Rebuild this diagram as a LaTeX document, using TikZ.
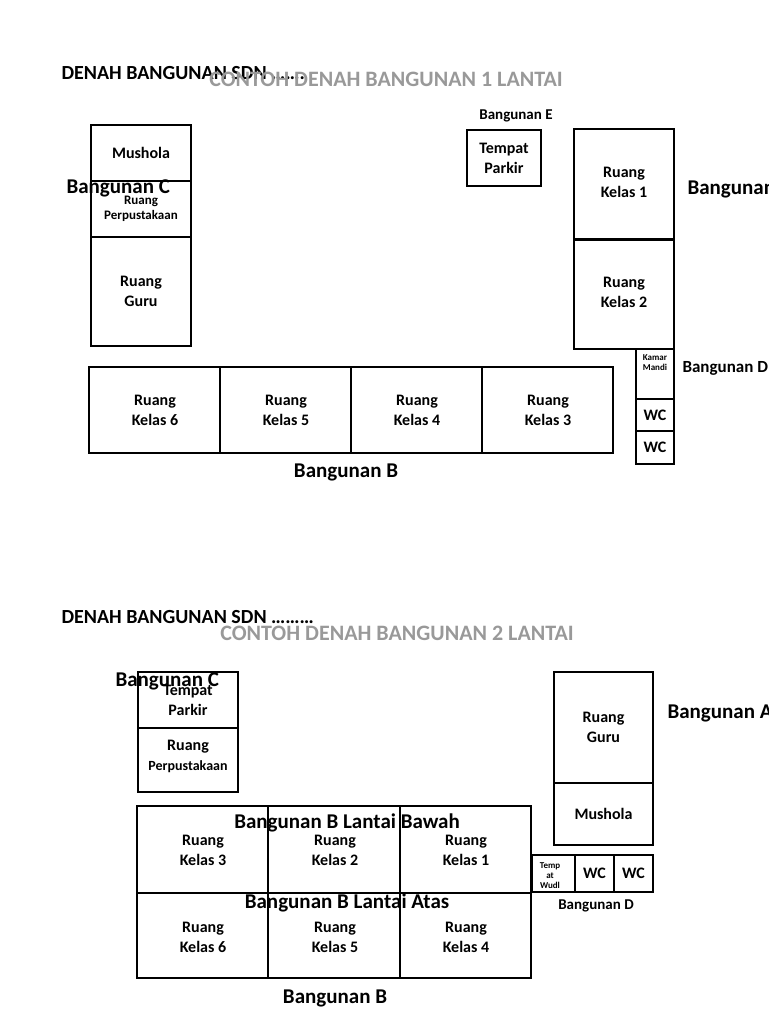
\documentclass[tikz,border=0pt]{standalone}
\usepackage{fontspec}
\setmainfont{Carlito}
\begin{document}
\begin{tikzpicture}[x=1pt,y=-1pt,
 room/.style={draw,line width=1.2pt},
 rt/.style={align=center,font=\bfseries\fontsize{16}{20}\selectfont},
 lbl/.style={font=\bfseries\fontsize{21}{22}\selectfont},
 ttl/.style={font=\bfseries\fontsize{20}{22}\selectfont,anchor=west},
 gry/.style={font=\bfseries\fontsize{22}{22}\selectfont,text=gray!80}]
\useasboundingbox (0,0) rectangle (768,1024);
% top plan
\node[ttl] (t1) at (58,73) {DENAH BANGUNAN SDN \dots\dots.};
\node[gry] (g1) at (386,79) {CONTOH DENAH BANGUNAN 1 LANTAI};
\draw[room] (91,125) rectangle (191,181) node[rt,midway] (mu) {Mushola};
\draw[room] (91,181) rectangle (191,237) node[rt,midway,font=\bfseries\fontsize{13}{15}\selectfont] (pp) {Ruang\\Perpustakaan};
\draw[room] (91,237) rectangle (191,346) node[rt,midway] (gu) {Ruang\\Guru};
\node[lbl,anchor=west] (bc) at (63,188) {Bangunan C};
\node[font=\bfseries\fontsize{15}{16}\selectfont] (be) at (516,116) {Bangunan E};
\draw[room] (467,130) rectangle (541,186) node[rt,midway] (tp) {Tempat\\Parkir};
\draw[room] (574,129) rectangle (674,239) node[rt,midway,yshift=2pt] (k1) {Ruang\\Kelas 1};
\draw[room] (574,240) rectangle (674,349) node[rt,midway,yshift=2pt] (k2) {Ruang\\Kelas 2};
\node[lbl,anchor=west] (ba) at (684,189) {Bangunan A};
\draw[room] (636,349) rectangle (674,399);
\node[align=center,font=\bfseries\fontsize{9}{10}\selectfont,anchor=north] (km) at (655,351) {Kamar\\Mandi};
\draw[room] (636,399) rectangle (674,431) node[midway,font=\bfseries\fontsize{16}{16}\selectfont] (w1) {WC};
\draw[room] (636,431) rectangle (674,464) node[midway,font=\bfseries\fontsize{16}{16}\selectfont] (w2) {WC};
\node[font=\bfseries\fontsize{17}{18}\selectfont,anchor=west] (bd) at (679,368) {Bangunan D};
\draw[room] (89,367) rectangle (613,453);
\draw[room] (220,367) -- (220,453) (351,367) -- (351,453) (482,367) -- (482,453);
\node[rt] (k6) at (155,410) {Ruang\\Kelas 6};
\node[rt] (k5) at (286,410) {Ruang\\Kelas 5};
\node[rt] (k4) at (417,410) {Ruang\\Kelas 4};
\node[rt] (k3) at (548,410) {Ruang\\Kelas 3};
\node[lbl] (bb) at (346,472) {Bangunan B};
% bottom plan
\node[ttl] (t2) at (58,617) {DENAH BANGUNAN SDN \dots\dots\dots};
\node[gry] (g2) at (397,633) {CONTOH DENAH BANGUNAN 2 LANTAI};
\draw[room] (138,672) rectangle (238,728) node[rt,midway] (tp2) {Tempat\\Parkir};
\draw[room] (138,728) rectangle (238,792);
\node[rt] (pp2) at (188,756) {Ruang\\\fontsize{14}{16}\selectfont Perpustakaan};
\node[lbl,anchor=west] (bc2) at (112,681) {Bangunan C};
\draw[room] (554,672) rectangle (653,783) node[rt,midway] (gu2) {Ruang\\Guru};
\draw[room] (554,783) rectangle (653,845) node[rt,midway] (mu2) {Mushola};
\node[lbl,anchor=west] (ba2) at (664,713) {Bangunan A};
\draw[room] (532,855) rectangle (575,892);
\node[align=center,font=\bfseries\fontsize{9}{10}\selectfont] (tw) at (550,876) {Temp\\at\\Wudl};
\draw[room] (575,855) rectangle (614,892) node[midway,font=\bfseries\fontsize{16}{16}\selectfont] (w3) {WC};
\draw[room] (614,855) rectangle (653,892) node[midway,font=\bfseries\fontsize{16}{16}\selectfont] (w4) {WC};
\node[font=\bfseries\fontsize{15}{16}\selectfont] (bd2) at (596,906) {Bangunan D};
\draw[room] (137,806) rectangle (531,978);
\draw[room] (137,893) -- (531,893) (268,806) -- (268,978) (400,806) -- (400,978);
\node[rt] (b3) at (203,850) {Ruang\\Kelas 3};
\node[rt] (b2) at (335,850) {Ruang\\Kelas 2};
\node[rt] (b1) at (466,850) {Ruang\\Kelas 1};
\node[rt] (b6) at (203,937) {Ruang\\Kelas 6};
\node[rt] (b5) at (335,937) {Ruang\\Kelas 5};
\node[rt] (b4) at (466,937) {Ruang\\Kelas 4};
\node[lbl] (lb) at (347,823) {Bangunan B Lantai Bawah};
\node[lbl] (la) at (347,903) {Bangunan B Lantai Atas};
\node[lbl] (bb2) at (335,998) {Bangunan B};
\end{tikzpicture}
\end{document}
